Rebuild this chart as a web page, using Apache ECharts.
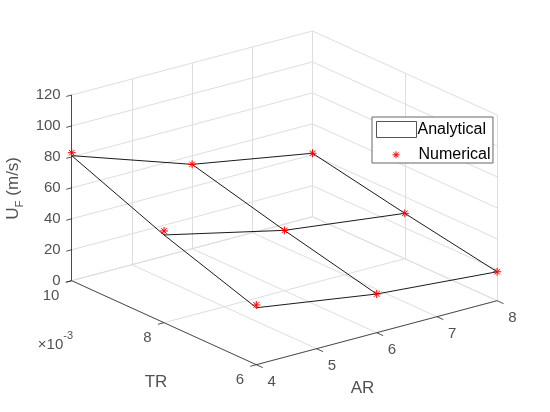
<!DOCTYPE html>
<html>
<head>
<meta charset="utf-8">
<script src="https://cdn.jsdelivr.net/npm/echarts@6/dist/echarts.min.js"></script>
<style>
html,body{margin:0;padding:0;background:#fff;}
#chart{width:550px;height:412px;}
</style>
</head>
<body>
<div id="chart"></div>
<script>
// ---------------- data ----------------
const arValues = [4, 6, 8];              // AR
const trValues = [6, 8, 10];             // TR (x10^-3)
// U_F (m/s), one array per TR value, ordered by arValues
const analyticalTR6  = [36.8, 25.0, 18.7];
const analyticalTR8  = [56.7, 39.0, 29.3];
const analyticalTR10 = [80.8, 54.5, 41.0];
const numericalTR6   = [38.6, 25.0, 18.7];
const numericalTR8   = [59.3, 39.0, 29.3];
const numericalTR10  = [82.7, 54.5, 41.0];
// axis ticks
const arTicks = [4, 5, 6, 7, 8];
const trTicks = [6, 8, 10];
const zTicks  = [0, 20, 40, 60, 80, 100, 120];
const arTickLabels = ['4', '5', '6', '7', '8'];
const trTickLabels = ['6', '8', '10'];
const zTickLabels  = ['0', '20', '40', '60', '80', '100', '120'];

// ---------------- 3D view (MATLAB default az -37.5, el 30) ----------------
const arMin = arTicks[0], arMax = arTicks[arTicks.length - 1];
const trMin = trTicks[0], trMax = trTicks[trTicks.length - 1];
const zMin = zTicks[0], zMax = zTicks[zTicks.length - 1];
const view = { ox: 71.7, oy: 280.7, arDx: 60.2, arDy: -16.0, trDx: -46.15, trDy: -21.0, zDy: -1.5475 };
function proj(ar, tr, z) {
  return [
    view.ox + view.arDx * (ar - arMin) + view.trDx * (tr - trMax),
    view.oy + view.arDy * (ar - arMin) + view.trDy * (tr - trMax) + view.zDy * z
  ];
}
function seg(a, b) { return { coords: [proj(a[0], a[1], a[2]), proj(b[0], b[1], b[2])] }; }

const analyticalRows = [analyticalTR6, analyticalTR8, analyticalTR10];
const numericalRows  = [numericalTR6, numericalTR8, numericalTR10];

// grid lines on back walls and floor
const gridSegs = [];
arTicks.forEach(ar => gridSegs.push(seg([ar, trMax, zMin], [ar, trMax, zMax])));
zTicks.forEach(z => gridSegs.push(seg([arMin, trMax, z], [arMax, trMax, z])));
trTicks.forEach(tr => gridSegs.push(seg([arMax, tr, zMin], [arMax, tr, zMax])));
zTicks.forEach(z => gridSegs.push(seg([arMax, trMin, z], [arMax, trMax, z])));
arTicks.forEach(ar => gridSegs.push(seg([ar, trMin, zMin], [ar, trMax, zMin])));
trTicks.forEach(tr => gridSegs.push(seg([arMin, tr, zMin], [arMax, tr, zMin])));

// axis lines and ticks
const axisSegs = [];
axisSegs.push(seg([arMin, trMax, zMin], [arMin, trMax, zMax]));
axisSegs.push(seg([arMin, trMin, zMin], [arMax, trMin, zMin]));
axisSegs.push(seg([arMin, trMin, zMin], [arMin, trMax, zMin]));
zTicks.forEach(z => axisSegs.push(seg([arMin, trMax, z], [arMin - 0.09, trMax, z])));
arTicks.forEach(ar => axisSegs.push(seg([ar, trMin, zMin], [ar, trMin - 0.14, zMin])));
trTicks.forEach(tr => axisSegs.push(seg([arMin, tr, zMin], [arMin - 0.1, tr, zMin])));

// analytical mesh polylines
const meshLines = [];
trValues.forEach((tr, i) => meshLines.push({ coords: arValues.map((ar, j) => proj(ar, tr, analyticalRows[i][j])) }));
arValues.forEach((ar, j) => meshLines.push({ coords: trValues.map((tr, i) => proj(ar, tr, analyticalRows[i][j])) }));

// numerical points
const numPoints = [];
trValues.forEach((tr, i) => arValues.forEach((ar, j) => numPoints.push(proj(ar, tr, numericalRows[i][j]))));

const FONT = 'Liberation Sans, Arial, Helvetica, sans-serif';
const TXT = '#262626';
const starPath = 'path://M5,0L5,10M0,5L10,5M1.5,1.5L8.5,8.5M8.5,1.5L1.5,8.5';

function textSeries(points, labels, label) {
  return {
    type: 'scatter', silent: true, symbolSize: 0, z: 5,
    data: points.map((p, i) => ({ value: p, name: labels[i] })),
    label: Object.assign({ show: true, position: 'inside', formatter: '{b}', color: TXT, fontFamily: FONT, fontSize: 15 }, label)
  };
}

const chart = echarts.init(document.getElementById('chart'), null, { renderer: 'canvas' });
chart.setOption({
  animation: false,
  backgroundColor: '#fff',
  grid: { left: 0, right: 0, top: 0, bottom: 0 },
  xAxis: { type: 'value', min: 0, max: 550, show: false },
  yAxis: { type: 'value', min: 0, max: 412, inverse: true, show: false },
  legend: [
    {
      data: [{ name: 'Analytical', icon: 'rect', itemStyle: { color: '#fff', borderColor: '#555', borderWidth: 1 } }],
      left: 372, top: 117, itemWidth: 40, itemHeight: 16, itemGap: 0,
      padding: [4, 7, 25, 4], backgroundColor: '#fff', borderColor: '#666', borderWidth: 1,
      selectedMode: false,
      textStyle: { fontFamily: FONT, fontSize: 16, color: '#000', padding: [0, 0, 0, -4] }
    },
    {
      data: [{ name: 'Numerical', icon: starPath, itemStyle: { color: '#ff0000', borderColor: '#ff0000', borderWidth: 1 } }],
      left: 392, top: 146.8, itemWidth: 7, itemHeight: 7, padding: 0,
      selectedMode: false,
      textStyle: { fontFamily: FONT, fontSize: 16, color: '#000', padding: [0, 0, 0, 14] }
    }
  ],
  series: [
    { type: 'lines', coordinateSystem: 'cartesian2d', silent: true, z: 1,
      lineStyle: { color: '#dedede', width: 1, opacity: 1 }, data: gridSegs },
    { type: 'lines', coordinateSystem: 'cartesian2d', silent: true, z: 2,
      lineStyle: { color: '#262626', width: 0.8, opacity: 1 }, data: axisSegs },
    { name: 'Analytical', type: 'lines', coordinateSystem: 'cartesian2d', polyline: true, z: 3,
      lineStyle: { color: '#000', width: 0.9, opacity: 1 }, data: meshLines },
    { name: 'Numerical', type: 'scatter', z: 4, symbol: starPath, symbolSize: 8,
      itemStyle: { color: '#ff0000', borderColor: '#ff0000', borderWidth: 1, opacity: 1 }, data: numPoints },
    textSeries(zTicks.map(z => proj(arMin, trMax, z)), zTickLabels,
      { align: 'right', verticalAlign: 'middle', offset: [-11, 0] }),
    textSeries(trTicks.map(tr => proj(arMin, tr, zMin)), trTickLabels,
      { align: 'right', verticalAlign: 'middle', offset: [-12.3, 15.4] }),
    textSeries(arTicks.map(ar => proj(ar, trMin, zMin)), arTickLabels,
      { align: 'center', verticalAlign: 'middle', offset: [15.3, 16.8] }),
    textSeries([proj((arMin + arMax) / 2, trMin, zMin)], ['AR'],
      { align: 'center', verticalAlign: 'middle', offset: [-14.2, 55.5], fontSize: 17 }),
    textSeries([proj(arMin, (trMin + trMax) / 2, zMin)], ['TR'],
      { align: 'center', verticalAlign: 'middle', offset: [-8, 59.8], fontSize: 17 }),
    textSeries([proj(arMin, (trMin + trMax) / 2, zMin)], ['exp'],
      { align: 'right', verticalAlign: 'middle', offset: [-91, 19],
        formatter: '{a|×10}{b|-3}',
        rich: { a: { fontFamily: FONT, fontSize: 15, color: TXT, lineHeight: 22, verticalAlign: 'bottom' },
                b: { fontFamily: FONT, fontSize: 11, color: TXT, lineHeight: 22, verticalAlign: 'top' } } }),
    textSeries([proj(arMin, trMax, (zMin + zMax) / 2)], ['zt'],
      { align: 'center', verticalAlign: 'middle', offset: [-0.5, -58], rotate: 90,
        formatter: '{a|U}{b|F}{a| (m/s)}',
        rich: { a: { fontFamily: FONT, fontSize: 17, color: TXT, lineHeight: 24, verticalAlign: 'middle' },
                b: { fontFamily: FONT, fontSize: 11.5, color: TXT, lineHeight: 24, verticalAlign: 'bottom' } } })
  ]
});
</script>
</body>
</html>
